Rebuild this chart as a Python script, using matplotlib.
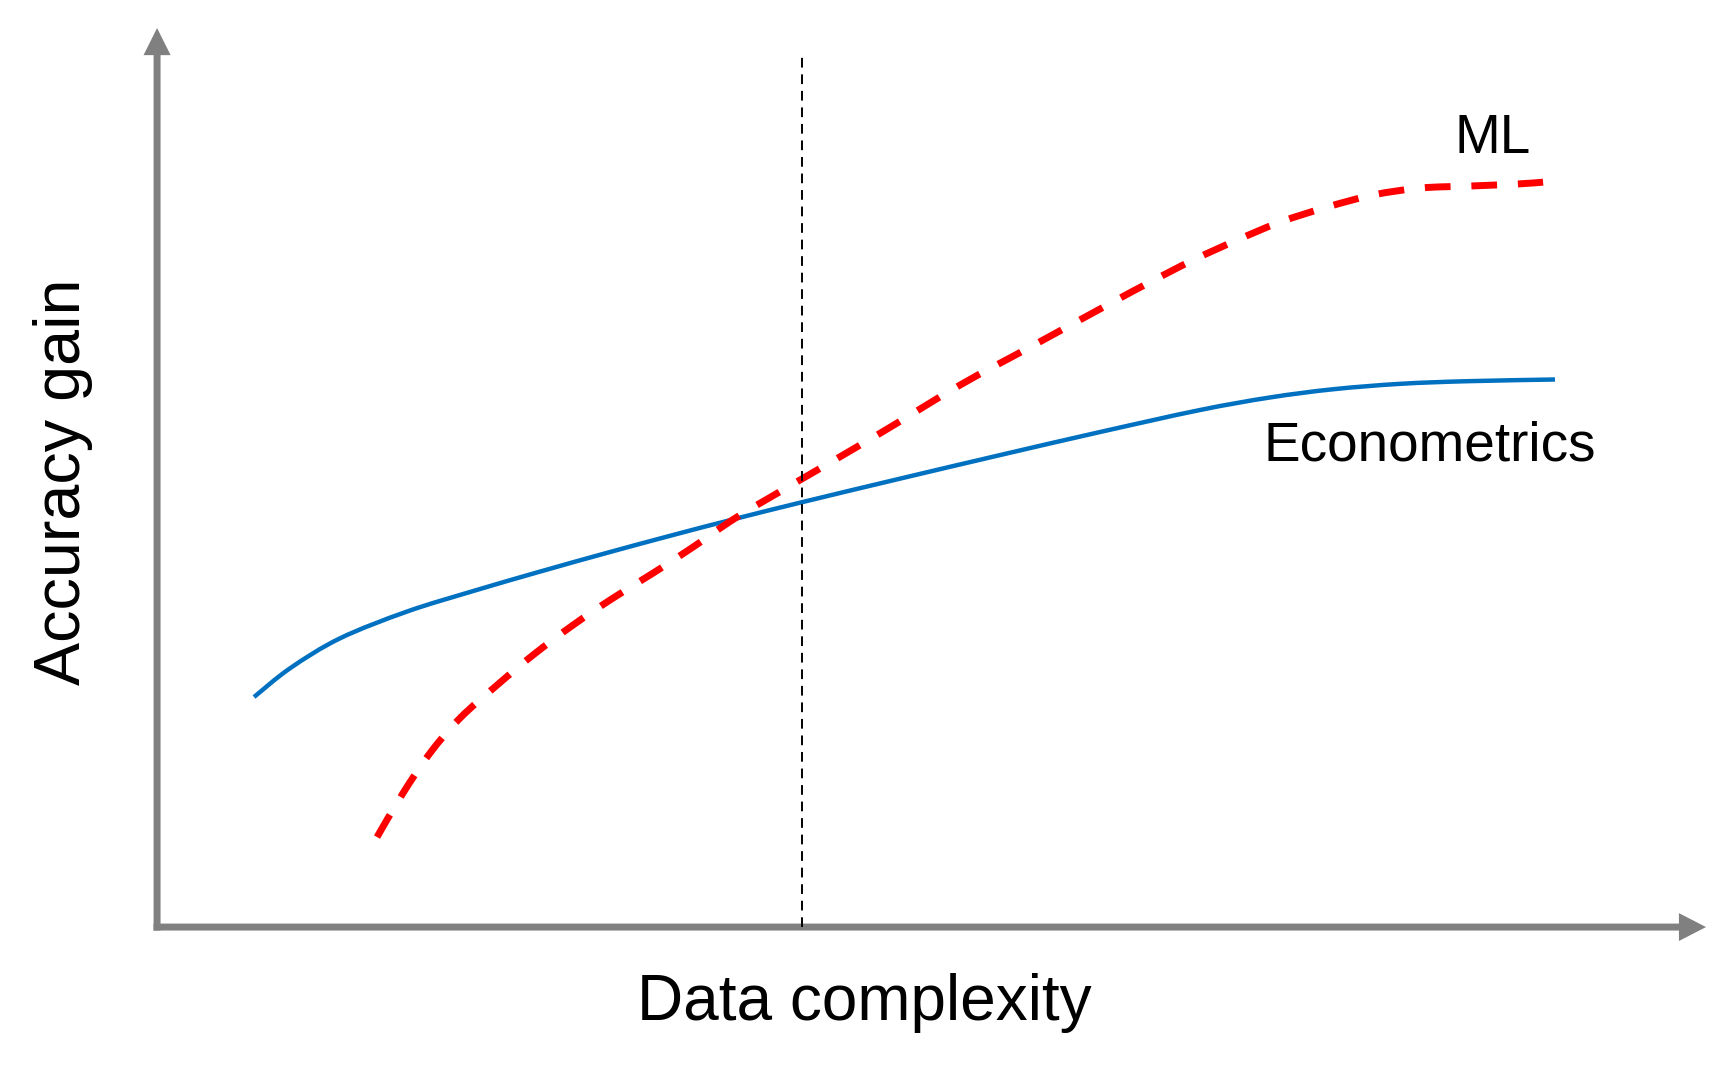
import matplotlib
matplotlib.use("Agg")
import numpy as np
from matplotlib import pyplot as plt
from matplotlib.path import Path
from matplotlib.patches import PathPatch

plt.rcParams['font.family'] = ['Liberation Sans', 'DejaVu Sans']

# Econometrics curve (solid blue)
econ_x = [6.26, 8.59, 11.81, 16.14, 20.40, 24.73, 29.05, 33.31, 37.19, 41.64,
          47.97, 54.42, 60.88, 67.33, 71.85, 75.92, 80.25, 84.57, 90.25]
econ_y = [14.85, 16.71, 18.64, 20.37, 21.69, 22.95, 24.16, 25.31, 26.32, 27.43,
          28.95, 30.47, 31.96, 33.38, 34.19, 34.72, 35.07, 35.24, 35.35]

# ML curve (dashed red)
ml_x = [14.20, 15.88, 17.62, 19.56, 21.95, 24.27, 26.86, 29.44, 32.02, 34.60,
        37.44, 41.51, 46.48, 51.84, 56.36, 61.33, 64.11, 66.88, 69.72, 72.50,
        75.53, 78.50, 81.54, 84.76, 87.80, 89.48]
ml_y = [5.81, 8.65, 11.23, 13.49, 15.62, 17.56, 19.50, 21.24, 22.85, 24.53,
        26.47, 28.86, 31.76, 34.99, 37.44, 40.15, 41.64, 43.06, 44.35, 45.51,
        46.48, 47.26, 47.71, 47.84, 47.97, 48.09]

# threshold line
split_x = 41.64
split_top = 56.49

x_max = 100
y_max = 58.04


# smooth curve through the points (Catmull-Rom as cubic Bezier segments)
def smooth_path(xs, ys):
    p = np.column_stack([xs, ys])
    n = len(p)
    verts = [p[0]]
    codes = [Path.MOVETO]
    for i in range(n - 1):
        p0 = p[max(i - 1, 0)]
        p3 = p[min(i + 2, n - 1)]
        c1 = p[i] + (p[i + 1] - p0) / 6
        c2 = p[i + 1] - (p3 - p[i]) / 6
        verts += [c1, c2, p[i + 1]]
        codes += [Path.CURVE4] * 3
    return Path(verts, codes)


fig = plt.figure(figsize=(17.35, 10.77), dpi=100)
ax = fig.add_axes([0, 0, 1, 1])
ax.set_xlim(-10.14, 101.87)
ax.set_ylim(-9.68, 59.85)
ax.axis('off')

gray = '#808080'
w = 0.45
# axes as arrows
ax.arrow(-w / 2, 0, x_max + w / 2, 0, width=w, head_width=1.8, head_length=1.75,
         length_includes_head=True, color=gray, lw=0)
ax.arrow(0, -w / 2, 0, y_max + w / 2, width=w, head_width=1.75, head_length=1.75,
         length_includes_head=True, color=gray, lw=0)

ax.plot([split_x, split_x], [0, split_top], color='black', lw=1.4,
        dashes=(5, 3.5))

ax.add_patch(PathPatch(smooth_path(econ_x, econ_y), fill=False,
                       edgecolor='#0070C0', lw=3.2, capstyle='butt'))
ax.add_patch(PathPatch(smooth_path(ml_x, ml_y), fill=False,
                       edgecolor='#FF0000', lw=5, linestyle=(0, (3.7, 3.0)),
                       capstyle='butt'))

ax.text(83.75, 49.97, 'ML', fontsize=39.5, ha='left', va='baseline')
ax.text(71.4, 30.15, 'Econometrics', fontsize=39.5, ha='left', va='baseline')
ax.text(45.64, -6.0, 'Data complexity', fontsize=46, ha='center', va='baseline')
ax.text(-6.05, 28.73, 'Accuracy gain', fontsize=46.5, ha='center', va='center',
        rotation=90)

fig.savefig('out.png', dpi=100)
